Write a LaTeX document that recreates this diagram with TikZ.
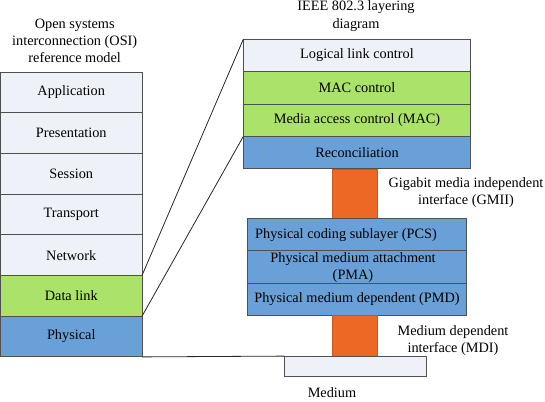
\documentclass[tikz,border=0pt]{standalone}
\usepackage{fontspec}
\setmainfont{Liberation Serif}
\definecolor{lightc}{RGB}{238,242,248}
\definecolor{greenc}{RGB}{170,226,106}
\definecolor{bluec}{RGB}{106,160,216}
\definecolor{orangec}{RGB}{236,104,36}
\definecolor{bordc}{RGB}{80,80,80}
\newcommand{\lbl}{\fontsize{14.3}{17.3}\selectfont}
\begin{document}
\begin{tikzpicture}[x=1pt,y=1pt,
  box/.style={draw=bordc, line width=0.9pt, inner sep=0pt, outer sep=0pt, anchor=north west, font=\lbl, align=center},
  osirow/.style={box, minimum width=141.5pt, minimum height=40.7pt},
  ieeerow/.style={box, minimum width=227.4pt, minimum height=32.4pt},
  phyrow/.style={box, fill=bluec, minimum width=219.4pt, minimum height=32.4pt},
  bar/.style={draw=orangec!85!black, line width=0.6pt, fill=orangec, inner sep=0pt, outer sep=0pt, anchor=north west, minimum width=45pt},
  caption/.style={font=\lbl, align=center, inner sep=0pt},
  link/.style={draw=black!85, line width=0.8pt}]
\useasboundingbox (0,0) rectangle (545,-401);
% OSI stack
\node[osirow, fill=lightc] (app) at (0.5,-72) {Application};
\node[osirow, fill=lightc] (pres) at (0.5,-112.7) {Presentation};
\node[osirow, fill=lightc] (sess) at (0.5,-153.4) {Session};
\node[osirow, fill=lightc] (trans) at (0.5,-194.1) {Transport};
\node[osirow, fill=lightc] (net) at (0.5,-234.8) {Network};
\node[osirow, fill=greenc] (dl) at (0.5,-275.5) {Data link};
\node[osirow, fill=bluec] (phys) at (0.5,-316.2) {Physical};
\node[caption] (ositl) at (74.7,-41) {Open systems\\interconnection (OSI)\\reference model};
% IEEE stack
\node[ieeerow, fill=lightc] (llc) at (243.3,-39.3) {Logical link control};
\node[ieeerow, fill=greenc] (macc) at (243.3,-71.7) {MAC control};
\node[ieeerow, fill=greenc] (mac) at (243.3,-104.1) {Media access control (MAC)};
\node[ieeerow, fill=bluec] (rec) at (243.3,-136.5) {Reconciliation};
\node[caption] (ieeetl) at (356,-16) {IEEE 802.3 layering\\diagram};
% GMII bar
\node[bar, minimum height=49.3pt] (gmii) at (332.3,-168.9) {};
\node[caption] (gmiitl) at (466,-192.5) {Gigabit media independent\\interface (GMII)};
% PHY stack
\node[phyrow] (pcs) at (247.3,-218.3) {};
\node[font=\lbl, inner sep=0pt] (pcst) at (346,-235) {Physical coding sublayer (PCS)};
\node[phyrow] (pma) at (247.3,-250.7) {};
\node[caption] (pmat) at (353,-267.5) {Physical medium attachment\\(PMA)};
\node[phyrow] (pmd) at (247.3,-283.1) {Physical medium dependent (PMD)};
% MDI bar
\node[bar, minimum height=40.6pt] (mdi) at (332.3,-315.5) {};
\node[caption] (mditl) at (453,-340.5) {Medium dependent\\interface (MDI)};
% Medium
\node[box, fill=lightc, minimum width=141.7pt, minimum height=20.7pt] (medium) at (284.3,-356.1) {};
\node[caption] (medt) at (332,-392.5) {Medium};
% connectors
\draw[link] (net.south east) -- (llc.north west);
\draw[link] (dl.south east) -- (rec.north west);
\draw[link] (phys.south east) -- (medium.north west);
\end{tikzpicture}
\end{document}
